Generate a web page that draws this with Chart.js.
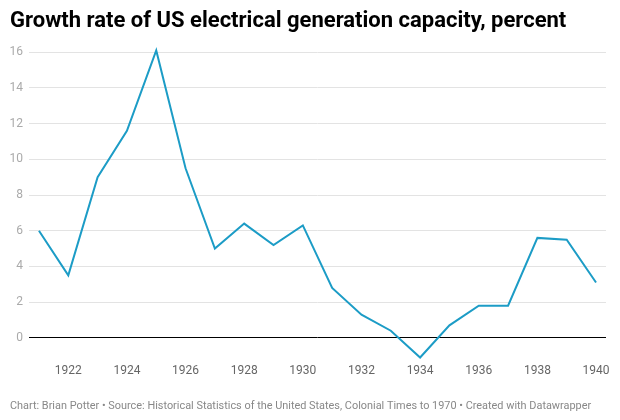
<!DOCTYPE html>
<html>
<head>
<meta charset="utf-8">
<script src="https://cdn.jsdelivr.net/npm/chart.js@4"></script>
<style>
  html, body { margin: 0; padding: 0; background: #fff; }
  #wrap { width: 620px; height: 420px; }
</style>
</head>
<body>
<div id="wrap"><canvas id="myLine"></canvas></div>
<script>
// data
var years = [1921, 1922, 1923, 1924, 1925, 1926, 1927, 1928, 1929, 1930,
             1931, 1932, 1933, 1934, 1935, 1936, 1937, 1938, 1939, 1940];
var growth = [6.0, 3.5, 9.0, 11.6, 16.1, 9.5, 5.0, 6.4, 5.2, 6.3,
              2.8, 1.3, 0.4, -1.1, 0.7, 1.8, 1.8, 5.6, 5.5, 3.1];
var xTicks = [1922, 1924, 1926, 1928, 1930, 1932, 1934, 1936, 1938, 1940];
var yTicks = [0, 2, 4, 6, 8, 10, 12, 14, 16];

var points = years.map(function (y, i) { return { x: y, y: growth[i] }; });

var ctxLine = document.getElementById("myLine");

var myLineChart = new Chart(ctxLine, {
    type: "line",
    data: {
        datasets: [
            {
                label: "Growth rate",
                data: points,
                borderColor: "#1c9cc6",
                borderWidth: 2,
                pointRadius: 0,
                fill: false,
                tension: 0,
                clip: false
            }
        ]
    },
    options: {
        responsive: true,
        maintainAspectRatio: false,
        animation: false,
        layout: { padding: { left: 10, right: 14, top: 0, bottom: 4 } },
        plugins: {
            legend: { display: false },
            tooltip: { enabled: false },
            title: {
                display: true,
                text: "Growth rate of US electrical generation capacity, percent",
                align: "start",
                color: "#000",
                font: { family: "Roboto", size: 22, weight: "bold" },
                padding: { top: 8, bottom: 16 }
            },
            subtitle: {
                display: true,
                position: "bottom",
                text: "Chart: Brian Potter \u2022 Source: Historical Statistics of the United States, Colonial Times to 1970 \u2022 Created with Datawrapper",
                align: "start",
                color: "#888",
                font: { family: "Roboto", size: 10.9 },
                padding: { top: 16, bottom: 3 }
            }
        },
        scales: {
            x: {
                type: "linear",
                min: 1920.66,
                max: 1940.34,
                afterBuildTicks: function (axis) {
                    axis.ticks = xTicks.map(function (v) { return { value: v }; });
                },
                grid: { display: false, drawTicks: false },
                border: { display: false },
                ticks: {
                    color: "#666",
                    font: { family: "Roboto", size: 12 },
                    padding: 6,
                    maxRotation: 0,
                    autoSkip: false,
                    callback: function (v) { return String(v); }
                }
            },
            y: {
                min: -1.1,
                max: 16.1,
                afterBuildTicks: function (axis) {
                    axis.ticks = yTicks.map(function (v) { return { value: v }; });
                },
                afterFit: function (axis) { axis.width = 19; },
                grid: {
                    drawTicks: false,
                    lineWidth: 1,
                    color: function (c) {
                        return c.tick && c.tick.value === 0 ? "#000" : "#e3e3e3";
                    }
                },
                border: { display: false },
                ticks: {
                    color: "#aaa",
                    font: { family: "Roboto", size: 12 },
                    padding: 6
                }
            }
        }
    }
});
</script>
</body>
</html>
